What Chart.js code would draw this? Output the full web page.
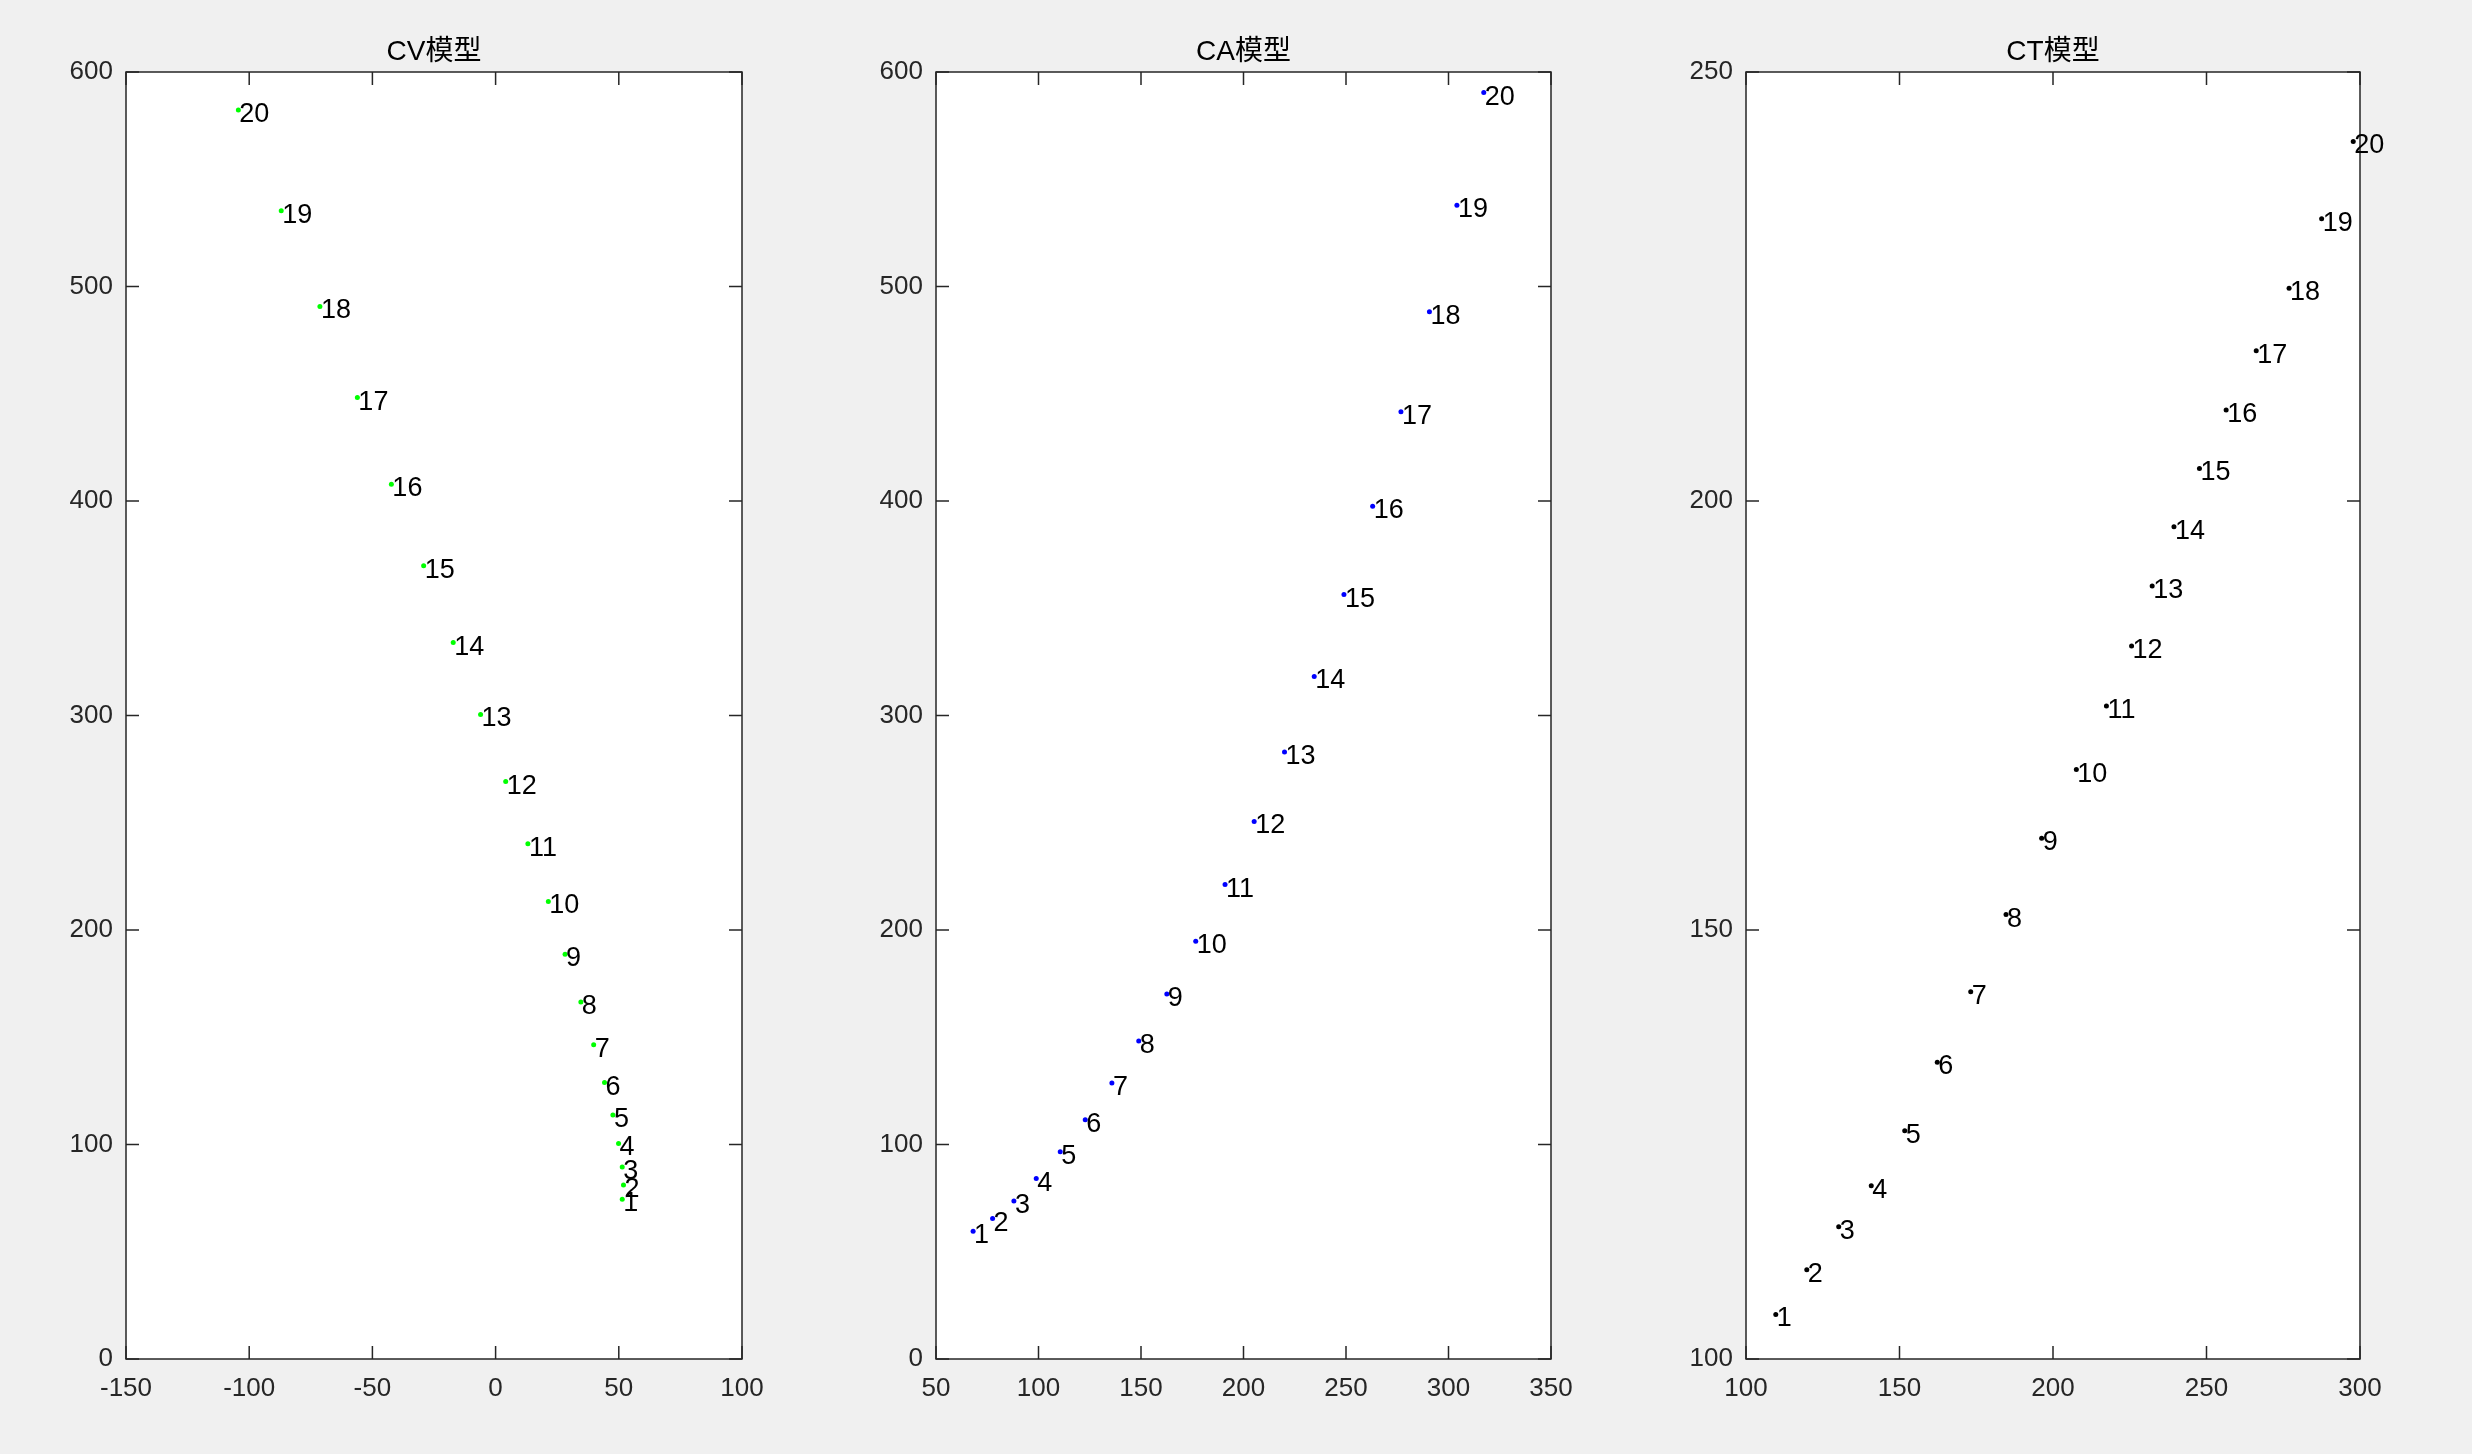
<!DOCTYPE html>
<html>
<head>
<meta charset="utf-8">
<title>CV / CA / CT 模型</title>
<script src="https://cdn.jsdelivr.net/npm/chart.js@4.4.1/dist/chart.umd.min.js"></script>
<style>
  html, body { margin: 0; padding: 0; background: #f0f0f0; }
  body { width: 2472px; height: 1454px; position: relative; overflow: hidden; }
  .panel { position: absolute; top: 0; }
</style>
</head>
<body>
<div class="panel" id="p1"><canvas id="cvChart"></canvas></div>
<div class="panel" id="p2"><canvas id="caChart"></canvas></div>
<div class="panel" id="p3"><canvas id="ctChart"></canvas></div>

<script>
// --- data ---
const pointNames = ['1','2','3','4','5','6','7','8','9','10','11','12','13','14','15','16','17','18','19','20'];

const cvX = [51.4, 51.9, 51.4, 49.9, 47.6, 44.2, 39.8, 34.6, 28.2, 21.4, 13.1, 4.1, -6.1, -17.2, -29.2, -42.3, -56.1, -71.3, -87.0, -104.4];
const cvY = [74.5, 81.1, 89.5, 100.5, 113.7, 128.9, 146.5, 166.4, 188.7, 213.3, 240.2, 269.2, 300.5, 334.0, 369.8, 407.8, 448.2, 490.7, 535.3, 582.3];

const caX = [68.1, 77.6, 88.0, 98.9, 110.6, 122.8, 135.8, 148.9, 162.6, 176.7, 191.0, 205.2, 220.0, 234.5, 249.0, 263.0, 276.8, 290.7, 304.1, 317.2];
const caY = [59.6, 65.5, 73.7, 84.1, 96.6, 111.5, 128.7, 148.3, 170.2, 194.8, 221.2, 250.6, 283.0, 318.2, 356.4, 397.5, 441.6, 488.2, 537.9, 590.4];

const ctX = [109.7, 119.8, 130.2, 140.8, 151.7, 162.3, 173.2, 184.7, 196.3, 207.6, 217.4, 225.6, 232.3, 239.4, 247.7, 256.4, 266.2, 276.9, 287.5, 297.8];
const ctY = [105.2, 110.4, 115.4, 120.2, 126.6, 134.6, 142.8, 151.8, 160.7, 168.7, 176.1, 183.1, 190.1, 197.0, 203.8, 210.6, 217.5, 224.8, 232.9, 241.9];

// axis limits [min, max, step]
const cvXRange = [-150, 100, 50];
const cvYRange = [0, 600, 100];
const caXRange = [50, 350, 50];
const caYRange = [0, 600, 100];
const ctXRange = [100, 300, 50];
const ctYRange = [100, 250, 50];

// --- layout ---
const Y_AXIS_W = 100;
const X_AXIS_H = 60;
const RIGHT_PAD = 70;
const BOTTOM_PAD = 35;
const PAGE_H = 1454;
const AXIS_COLOR = '#262626';
const TICK_LEN = 13;
const FONT = "'Liberation Sans', Arial, 'Noto Sans CJK SC', sans-serif";

// MATLAB-ish box: white plot area, frame, inward ticks on all four sides, text labels next to points
const matlabBox = {
  id: 'matlabBox',
  beforeDatasetsDraw(chart) {
    const { ctx, chartArea: a } = chart;
    ctx.save();
    ctx.fillStyle = '#ffffff';
    ctx.fillRect(a.left, a.top, a.right - a.left, a.bottom - a.top);
    ctx.restore();
  },
  afterDraw(chart) {
    const { ctx, chartArea: a, scales } = chart;
    ctx.save();
    ctx.strokeStyle = AXIS_COLOR;
    ctx.lineWidth = 1.5;
    ctx.strokeRect(a.left, a.top, a.right - a.left, a.bottom - a.top);

    ctx.beginPath();
    scales.x.ticks.forEach(t => {
      const px = scales.x.getPixelForValue(t.value);
      ctx.moveTo(px, a.bottom); ctx.lineTo(px, a.bottom - TICK_LEN);
      ctx.moveTo(px, a.top);    ctx.lineTo(px, a.top + TICK_LEN);
    });
    scales.y.ticks.forEach(t => {
      const py = scales.y.getPixelForValue(t.value);
      ctx.moveTo(a.left, py);  ctx.lineTo(a.left + TICK_LEN, py);
      ctx.moveTo(a.right, py); ctx.lineTo(a.right - TICK_LEN, py);
    });
    ctx.stroke();

    // point names
    ctx.fillStyle = '#000000';
    ctx.font = '27px ' + FONT;
    ctx.textAlign = 'left';
    ctx.textBaseline = 'alphabetic';
    chart.getDatasetMeta(0).data.forEach((pt, i) => {
      ctx.fillText(pointNames[i], pt.x + 1, pt.y + 12);
    });
    ctx.restore();
  }
};

function makePanel(canvasId, wrapId, axisLeft, axisWidth, title, xs, ys, xRange, yRange, color) {
  const wrap = document.getElementById(wrapId);
  const canvas = document.getElementById(canvasId);
  const w = Y_AXIS_W + axisWidth + RIGHT_PAD;
  wrap.style.left = (axisLeft - Y_AXIS_W) + 'px';
  wrap.style.width = w + 'px';
  wrap.style.height = PAGE_H + 'px';
  canvas.width = w;
  canvas.height = PAGE_H;
  canvas.style.width = w + 'px';
  canvas.style.height = PAGE_H + 'px';

  const tickStyle = { color: AXIS_COLOR, font: { family: FONT, size: 26 } };

  return new Chart(canvas.getContext('2d'), {
    type: 'scatter',
    data: {
      datasets: [{
        data: xs.map((x, i) => ({ x: x, y: ys[i] })),
        backgroundColor: color,
        borderWidth: 0,
        pointRadius: 2.5,
        pointHoverRadius: 2.5
      }]
    },
    options: {
      responsive: false,
      animation: false,
      events: [],
      layout: { padding: { top: 0, left: 0, right: RIGHT_PAD, bottom: BOTTOM_PAD } },
      plugins: {
        legend: { display: false },
        tooltip: { enabled: false },
        title: {
          display: true,
          text: title,
          fullSize: false,
          color: '#000000',
          font: { family: FONT, size: 28, weight: 'normal', lineHeight: 1.2 },
          padding: { top: 35, bottom: 3.4 }
        }
      },
      scales: {
        x: {
          type: 'linear',
          min: xRange[0], max: xRange[1],
          grid: { display: false, drawTicks: false },
          border: { display: false },
          ticks: Object.assign({ stepSize: xRange[2], padding: 14, maxRotation: 0 }, tickStyle),
          afterFit: s => { s.height = X_AXIS_H; }
        },
        y: {
          type: 'linear',
          min: yRange[0], max: yRange[1],
          grid: { display: false, drawTicks: false },
          border: { display: false },
          ticks: Object.assign({ stepSize: yRange[2], padding: 13 }, tickStyle),
          afterFit: s => { s.width = Y_AXIS_W; }
        }
      }
    },
    plugins: [matlabBox]
  });
}

makePanel('cvChart', 'p1', 126, 616, 'CV模型', cvX, cvY, cvXRange, cvYRange, '#00ff00');
makePanel('caChart', 'p2', 936, 615, 'CA模型', caX, caY, caXRange, caYRange, '#0000ff');
makePanel('ctChart', 'p3', 1746, 614, 'CT模型', ctX, ctY, ctXRange, ctYRange, '#000000');
</script>
</body>
</html>
